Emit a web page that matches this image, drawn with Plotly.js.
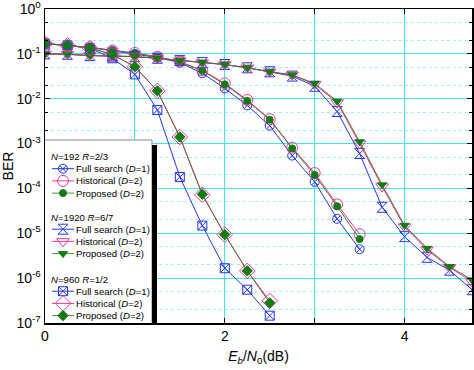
<!DOCTYPE html>
<html><head><meta charset="utf-8">
<script src="https://cdn.plot.ly/plotly-3.0.1.min.js"></script>
<style>html,body{margin:0;padding:0;background:#fff}#chart{width:474px;height:370px}</style>
</head><body><div id="chart"></div>
<script>
// Eb/N0 (dB) values for each code
const xA = [0,0.25,0.5,0.75,1,1.25,1.5,1.75,2,2.25,2.5,2.75,3,3.25,3.5];
const xB = [0,0.25,0.5,0.75,1,1.25,1.5,1.75,2,2.25,2.5,2.75,3,3.25,3.5,3.75,4,4.25,4.5,4.75];
const xC = [0,0.25,0.5,0.75,1,1.25,1.5,1.75,2,2.25,2.5];
// N=192 R=2/3
const A_full = [0.17,0.155,0.138,0.117,0.1,0.083,0.064,0.037,0.017,0.0071,0.0025,5.4e-4,1.4e-4,2.1e-5,4.4e-6];
const A_hist = [0.17,0.155,0.14,0.12,0.105,0.086,0.067,0.043,0.022,0.0094,0.0035,8.1e-4,2.2e-4,4.4e-5,9.5e-6];
const A_prop = [0.17,0.155,0.14,0.12,0.104,0.085,0.066,0.042,0.021,0.009,0.0034,7.8e-4,2.0e-4,4.0e-5,7.4e-6];
// N=1920 R=6/7
const B_full = [0.1,0.098,0.092,0.09,0.087,0.08,0.071,0.064,0.058,0.049,0.04,0.032,0.019,0.0052,6.0e-4,3.8e-5,8.4e-6,2.9e-6,1.5e-6,5.5e-7];
const B_hist = [0.1,0.098,0.092,0.09,0.087,0.08,0.071,0.064,0.058,0.049,0.04,0.034,0.021,0.0082,0.001,1.1e-4,1.4e-5,4.3e-6,1.74e-6,8.3e-7];
const B_prop = [0.1,0.098,0.092,0.09,0.087,0.08,0.071,0.064,0.058,0.049,0.04,0.034,0.022,0.0088,0.0011,1.2e-4,1.5e-5,4.6e-6,1.8e-6,9.1e-7];
// N=960 R=1/2
const C_full = [0.17,0.155,0.133,0.08,0.035,0.0056,1.8e-4,1.48e-5,1.66e-6,5.5e-7,1.45e-7];
const C_hist = [0.17,0.155,0.135,0.097,0.052,0.015,0.0014,7.2e-5,9.3e-6,1.45e-6,3.1e-7];
const C_prop = [0.17,0.155,0.135,0.097,0.052,0.015,0.0014,7.4e-5,9.3e-6,1.45e-6,2.8e-7];

const groupTitles = ['<i>N</i>=192 <i>R</i>=2/3','<i>N</i>=1920 <i>R</i>=6/7','<i>N</i>=960 <i>R</i>=1/2'];
const seriesNames = ['Full search (<i>D</i>=1)','Historical (<i>D</i>=2)','Proposed (<i>D</i>=2)'];
const xTickVals = [0,2,4];
const xTickText = ['0','2','4'];
const yTickVals = [1,0.1,0.01,0.001,1e-4,1e-5,1e-6,1e-7];
const yTickText = ['10<sup>0</sup>','10<sup>-1</sup>','10<sup>-2</sup>','10<sup>-3</sup>','10<sup>-4</sup>','10<sup>-5</sup>','10<sup>-6</sup>','10<sup>-7</sup>'];

const BLUE = '#2436e8', PINK = '#ee3a92', GREEN = '#127a12', GLINE = '#5c6c38';
const groups = [
  {x:xA, ys:[A_full,A_hist,A_prop], sym:['circle-x-open','circle-open','circle'], size:[9,11,7]},
  {x:xB, ys:[B_full,B_hist,B_prop], sym:['hourglass-open','triangle-down-open','triangle-down'], size:[10,11,8]},
  {x:xC, ys:[C_full,C_hist,C_prop], sym:['square-x-open','diamond-open','diamond'], size:[9,12,8]}
];
const lineCol = [BLUE, PINK, GLINE];
const markCol = [BLUE, PINK, GREEN];
const FONT = 'Liberation Sans, Arial, sans-serif';

const traces = [];
groups.forEach((g, gi) => {
  g.ys.forEach((y, si) => {
    traces.push({
      type:'scatter', mode:'lines+markers', x:g.x, y:y, xaxis:'x', yaxis:'y',
      name: seriesNames[si], showlegend:false, hoverinfo:'skip',
      line:{color:lineCol[si], width:1},
      marker:{symbol:g.sym[si], size:g.size[si], color:markCol[si], line:{color:markCol[si], width:1}}
    });
  });
});

// Custom legend (pixel-like helper axes x2/y2 spanning the plot area)
const PL = 45, PR = 472, PT = 9, PB = 323;
const legTitleY = [156.5, 217, 279];
const rowGap = 12.2;
const sampleX = [52, 63, 74];
const textX = 74, titleX = 49;
const annotations = [];
groups.forEach((g, gi) => {
  annotations.push({xref:'x2', yref:'y2', x:titleX, y:legTitleY[gi], text:groupTitles[gi], showarrow:false,
    xanchor:'left', yanchor:'middle', font:{size:9.6, family:FONT, color:'#000'}});
  for (let si = 0; si < 3; si++) {
    const ry = legTitleY[gi] + rowGap * (si + 1);
    traces.push({
      type:'scatter', mode:'lines+markers', x:sampleX, y:[ry, ry, ry], xaxis:'x2', yaxis:'y2',
      showlegend:false, hoverinfo:'skip',
      line:{color: si === 2 ? '#3f9a3f' : lineCol[si], width:1},
      marker:{symbol:g.sym[si], size:g.size[si], color:markCol[si], opacity:[0,1,0], line:{color:markCol[si], width:1}}
    });
    annotations.push({xref:'x2', yref:'y2', x:textX, y:ry, text:seriesNames[si], showarrow:false,
      xanchor:'left', yanchor:'middle', font:{size:9.6, family:FONT, color:'#000'}});
  }
});
const shapes = [
  {type:'rect', xref:'x2', yref:'y2', layer:'below', x0:44, x1:152, y0:140, y1:325, fillcolor:'#fff', line:{color:'#8a8a8a', width:1}},
  {type:'rect', xref:'x2', yref:'y2', layer:'below', x0:152, x1:157, y0:145, y1:325, fillcolor:'#000', line:{width:0}}
];

const layout = {
  width:474, height:370,
  margin:{l:PL, r:474-PR, t:PT, b:370-PB},
  paper_bgcolor:'#fff', plot_bgcolor:'rgba(0,0,0,0)',
  font:{family:FONT, color:'#000', size:13},
  showlegend:false,
  shapes: shapes,
  annotations: annotations,
  xaxis:{range:[0,4.75], tickvals:xTickVals, ticktext:xTickText, ticks:'inside', ticklen:5, tickcolor:'#000',
         showline:true, linecolor:'#000', linewidth:1.5, mirror:'ticks', showgrid:true, gridcolor:'#3fe6ee', gridwidth:1,
         zeroline:false, tickfont:{size:14}, ticklabeloverflow:'allow',
         minor:{tick0:0, dtick:1, ticks:'inside', ticklen:5, tickcolor:'#000', showgrid:true, gridcolor:'#3fe6ee', gridwidth:1},
         title:{text:'<i>E</i><sub><i>b</i></sub>/<i>N</i><sub>0</sub>(dB)', font:{size:14}, standoff:8}},
  yaxis:{type:'log', range:[-7.002,0.002], tickvals:yTickVals, ticktext:yTickText, ticks:'inside', ticklen:5, tickcolor:'#000',
         showline:true, linecolor:'#000', linewidth:1.5, mirror:'ticks', showgrid:true, gridcolor:'#3fe6ee', gridwidth:1,
         zeroline:false, tickfont:{size:14}, ticklabeloverflow:'allow',
         minor:{ticks:'inside', ticklen:3, tickcolor:'#000', showgrid:true, gridcolor:'#9ff0f4', griddash:'dot', gridwidth:1},
         title:{text:'BER', font:{size:14}, standoff:4}},
  xaxis2:{domain:[0,1], anchor:'y2', range:[PL,PR], visible:false, fixedrange:true},
  yaxis2:{domain:[0,1], anchor:'x2', range:[PB,PT], visible:false, fixedrange:true}
};
Plotly.newPlot('chart', traces, layout, {displayModeBar:false, staticPlot:true});
</script>
</body></html>
